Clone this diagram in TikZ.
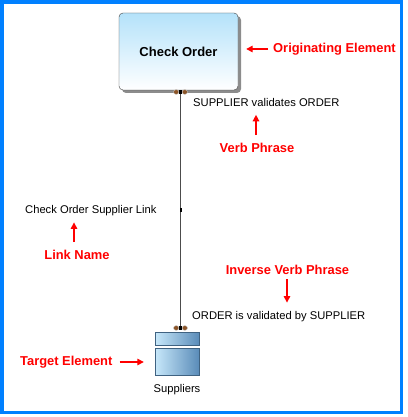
\documentclass[tikz,border=0pt]{standalone}
\usepackage{fontspec}
\setmainfont{Liberation Sans}
\usetikzlibrary{arrows.meta,shadows}
\definecolor{frameblue}{RGB}{0,128,255}
\definecolor{boxblue}{RGB}{180,226,250}
\definecolor{iconlight}{RGB}{200,232,250}
\definecolor{icondark}{RGB}{90,140,185}
\definecolor{linkbrown}{RGB}{140,85,40}
\tikzset{
  note/.style={text=red, inner sep=0pt, font=\bfseries\fontsize{12.9}{15}\selectfont},
  plain/.style={inner sep=0pt, font=\fontsize{11.2}{13}\selectfont},
  pointer/.style={red, line width=1.3pt, -{Triangle[length=6.5pt,width=6.5pt]}},
  iconbox/.style={draw=icondark!70!black, left color=iconlight, right color=icondark, minimum width=44pt, inner sep=0pt},
  endmark/.style={fill=black, minimum size=3.5pt, inner sep=0pt}
}
\begin{document}
\begin{tikzpicture}[x=1pt,y=-1pt]
\useasboundingbox (0,0) rectangle (407,417);
\draw[frameblue, line width=3.5pt] (2,2) rectangle (401.5,412.5);

% elements
\node[draw=black!75, rounded corners=4pt, top color=boxblue, bottom color=white,
  drop shadow={shadow xshift=3pt, shadow yshift=-3pt, fill=black, opacity=.45},
  minimum width=119pt, minimum height=77pt, inner sep=0pt,
  font=\bfseries\fontsize{13}{15}\selectfont] (order) at (178.5,51.5) {Check Order};
\node[iconbox, minimum height=13pt] (suptop) at (177,338.5) {};
\node[iconbox, minimum height=27pt] (sup) at (177,361.5) {};
\node[plain, below=0pt] (suplabel) at (177,384) {Suppliers};

% link
\foreach \y in {92,328} {
  \fill[linkbrown, draw=gray!40] (176.2,\y) ellipse (2.7pt and 2.4pt);
  \fill[linkbrown, draw=gray!40] (184.8,\y) ellipse (2.7pt and 2.4pt);
}
\node[endmark] (srcend) at (180.5,92) {};
\node[endmark] (tgtend) at (180.5,328) {};
\draw[gray!60!black, line width=1.3pt] (srcend) -- (tgtend);
\node[fill=black, minimum width=2pt, minimum height=4pt, inner sep=0pt] (mid) at (180.5,210) {};

% link texts
\node[plain, anchor=west] (verb) at (193,102.5) {SUPPLIER validates ORDER};
\node[plain, anchor=west] (inverse) at (192,317) {ORDER is validated by SUPPLIER};
\node[plain, anchor=west] (linkname) at (25,211) {Check Order Supplier Link};

% notes
\node[note, anchor=west] (orignote) at (273,49) {Originating Element};
\node[note] (verbnote) at (257,148) {Verb Phrase};
\node[note] (namenote) at (77,254.5) {Link Name};
\node[note] (invnote) at (287.5,269.5) {Inverse Verb Phrase};
\node[note, anchor=west] (targetnote) at (20,362) {Target Element};

\draw[pointer, shorten >=8pt] (orignote.west) ++(-5,0) coordinate (o1) -- (order.east |- o1);
\draw[pointer, shorten >=8pt] (256,135) coordinate (v1) -- (v1 |- verb.south);
\draw[pointer, shorten >=6pt] (74,242) coordinate (n1) -- (n1 |- linkname.south);
\draw[pointer, shorten >=9pt] (287,279) coordinate (i1) -- (i1 |- inverse.north);
\draw[pointer, shorten >=11pt] (targetnote.east) ++(7,0) coordinate (t1) -- (sup.west |- t1);
\end{tikzpicture}
\end{document}
